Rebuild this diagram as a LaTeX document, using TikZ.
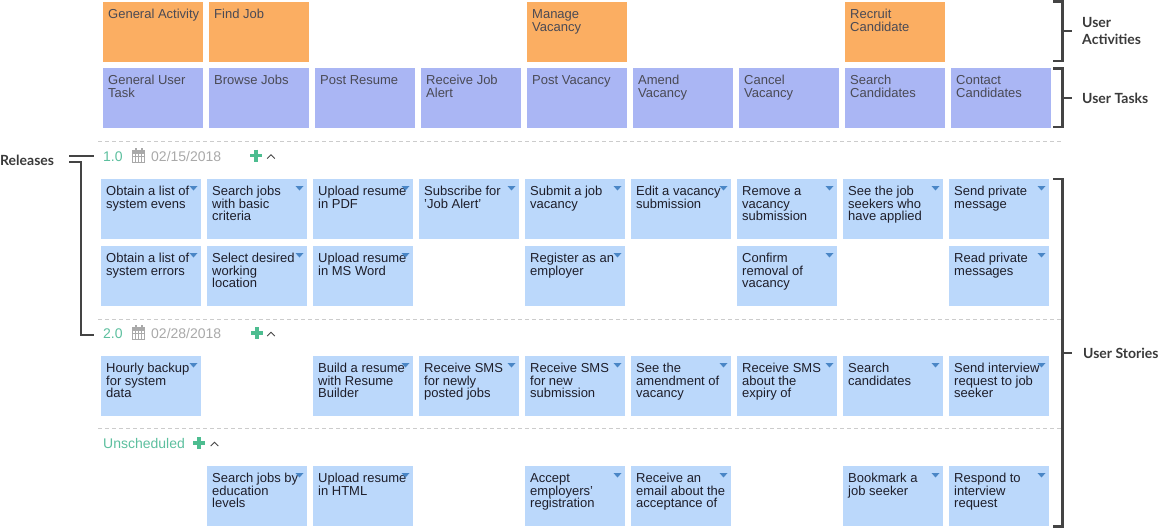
\documentclass[tikz,border=0pt]{standalone}
\usepackage{fontspec}
\setmainfont{Liberation Sans}
\newfontfamily\lato{Lato}
\definecolor{actcol}{HTML}{FBAE62}
\definecolor{taskcol}{HTML}{AAB6F4}
\definecolor{storycol}{HTML}{BBD8FB}
\definecolor{tricol}{HTML}{4A86C6}
\definecolor{relcol}{HTML}{5CBF9E}
\definecolor{datecol}{HTML}{A9A9A9}
\definecolor{pluscol}{HTML}{4DBD90}
\definecolor{brkcol}{HTML}{444444}
\definecolor{sepcol}{HTML}{CCCCCC}
\definecolor{cardtxtcol}{HTML}{4A4A55}
\definecolor{storytxtcol}{HTML}{1E1E2A}
\definecolor{lblcol}{HTML}{3A3A3A}
\tikzset{
  card/.style={anchor=north west, minimum width=100pt, minimum height=60pt, inner sep=0pt, outer sep=0pt, draw=none},
  actbox/.style={card, fill=actcol},
  taskbox/.style={card, fill=taskcol},
  storybox/.style={card, fill=storycol},
  ctext/.style={anchor=north west, inner sep=0pt, align=left, font=\fontsize{13}{12.8}\selectfont},
  reltxt/.style={anchor=base west, inner sep=0pt, text=relcol, font=\fontsize{14}{16}\selectfont},
  datetxt/.style={anchor=base west, inner sep=0pt, text=datecol, font=\fontsize{14}{16}\selectfont},
  lbl/.style={inner sep=0pt, align=left, text=lblcol, font=\lato\bfseries\fontsize{14}{17}\selectfont},
  brkline/.style={draw=brkcol, line width=2.5pt, line join=miter},
  sepline/.style={draw=sepcol, line width=0.8pt, dash pattern=on 4pt off 3pt},
  plusline/.style={draw=pluscol, line width=3.2pt},
  caretline/.style={draw=brkcol, line width=0.9pt},
}
\newcommand\cardtext[3]{\node[ctext,text=#1] (#2-t) at ([xshift=5pt,yshift=-5pt]#2.north west) {\rule{0pt}{11pt}#3};}
\newcommand\act[4]{\node[actbox] (#1) at (#2,#3) {}; \cardtext{cardtxtcol}{#1}{#4}}
\newcommand\task[4]{\node[taskbox] (#1) at (#2,#3) {}; \cardtext{cardtxtcol}{#1}{#4}}
\newcommand\story[4]{\node[storybox] (#1) at (#2,#3) {}; \cardtext{storytxtcol}{#1}{#4}
  \fill[tricol] ([xshift=-11.5pt,yshift=-7pt]#1.north east) -- ++(8pt,0pt) -- ++(-4pt,-4.5pt) -- cycle;}
\newcommand\calicon[2]{%
  \fill[datecol] (#1,#2+2) rectangle (#1+13,#2+14.5);
  \fill[datecol] (#1+2.5,#2) rectangle (#1+4.5,#2+3);
  \fill[datecol] (#1+8.5,#2) rectangle (#1+10.5,#2+3);
  \foreach \i in {0,...,3}{\foreach \j in {0,...,2}{
    \fill[white] (#1+1.2+\i*2.9,#2+5.6+\j*2.9) rectangle ++(2.1pt,-2.1pt);}}}
\newcommand\plusicon[2]{\draw[plusline] (#1-6,#2) -- (#1+6,#2); \draw[plusline] (#1,#2-6) -- (#1,#2+6);}
\newcommand\careticon[2]{\draw[caretline] (#1-3.8,#2+2) -- (#1,#2-1.8) -- (#1+3.8,#2+2);}
\begin{document}
\begin{tikzpicture}[x=1pt,y=-1pt]
\useasboundingbox (0,0) rectangle (1159,528);
% activities
\act{a1}{103}{2}{General Activity}
\act{a2}{209}{2}{Find Job}
\act{a5}{527}{2}{Manage\\Vacancy}
\act{a8}{845}{2}{Recruit\\Candidate}
% tasks
\task{t1}{103}{68}{General User\\Task}
\task{t2}{209}{68}{Browse Jobs}
\task{t3}{315}{68}{Post Resume}
\task{t4}{421}{68}{Receive Job\\Alert}
\task{t5}{527}{68}{Post Vacancy}
\task{t6}{633}{68}{Amend\\Vacancy}
\task{t7}{739}{68}{Cancel\\Vacancy}
\task{t8}{845}{68}{Search\\Candidates}
\task{t9}{951}{68}{Contact\\Candidates}
% separators
\draw[sepline] (98,141) -- (1061,141);
\draw[sepline] (98,319) -- (1061,319);
\draw[sepline] (98,428) -- (1061,428);
% release 1 header
\node[reltxt] (r1) at (103,161) {1.0};
\calicon{132}{148}
\node[datetxt] (d1) at (151,161) {02/15/2018};
\plusicon{256}{155.7}
\careticon{271}{156.5}
% release 1 stories
\story{s11}{101}{179}{Obtain a list of\\system evens}
\story{s12}{207}{179}{Search jobs\\with basic\\criteria}
\story{s13}{313}{179}{Upload resume\\in PDF}
\story{s14}{419}{179}{Subscribe for\\'Job Alert'}
\story{s15}{525}{179}{Submit a job\\vacancy}
\story{s16}{631}{179}{Edit a vacancy\\submission}
\story{s17}{737}{179}{Remove a\\vacancy\\submission}
\story{s18}{843}{179}{See the job\\seekers who\\have applied}
\story{s19}{949}{179}{Send private\\message}
\story{s21}{101}{246}{Obtain a list of\\system errors}
\story{s22}{207}{246}{Select desired\\working\\location}
\story{s23}{313}{246}{Upload resume\\in MS Word}
\story{s25}{525}{246}{Register as an\\employer}
\story{s27}{737}{246}{Confirm\\removal of\\vacancy}
\story{s29}{949}{246}{Read private\\messages}
% release 2 header
\node[reltxt] (r2) at (103,338) {2.0};
\calicon{132}{325}
\node[datetxt] (d2) at (151,338) {02/28/2018};
\plusicon{257}{333}
\careticon{271}{334}
% release 2 stories
\story{s31}{101}{356}{Hourly backup\\for system\\data}
\story{s33}{313}{356}{Build a resume\\with Resume\\Builder}
\story{s34}{419}{356}{Receive SMS\\for newly\\posted jobs}
\story{s35}{525}{356}{Receive SMS\\for new\\submission}
\story{s36}{631}{356}{See the\\amendment of\\vacancy}
\story{s37}{737}{356}{Receive SMS\\about the\\expiry of}
\story{s38}{843}{356}{Search\\candidates}
\story{s39}{949}{356}{Send interview\\request to job\\seeker}
% unscheduled header
\node[reltxt] (un) at (103,448) {Unscheduled};
\plusicon{199}{443}
\careticon{214.5}{444}
% unscheduled stories
\story{s42}{207}{466}{Search jobs by\\education\\levels}
\story{s43}{313}{466}{Upload resume\\in HTML}
\story{s45}{525}{466}{Accept\\employers'\\registration}
\story{s46}{631}{466}{Receive an\\email about the\\acceptance of}
\story{s48}{843}{466}{Bookmark a\\job seeker}
\story{s49}{949}{466}{Respond to\\interview\\request}
% right brackets
\draw[brkline] (1053,1.25) -- (1062.5,1.25) -- (1062.5,61) -- (1053,61);
\draw[brkline] (1062.5,31) -- (1072,31);
\draw[brkline] (1053,68.5) -- (1062.5,68.5) -- (1062.5,127) -- (1053,127);
\draw[brkline] (1062.5,98) -- (1072,98);
\draw[brkline] (1053,179) -- (1062.5,179) -- (1062.5,526.5) -- (1053,526.5);
\draw[brkline] (1062.5,353) -- (1072,353);
\node[lbl, anchor=north west] (lua) at (1082,16) {\rule{0pt}{11pt}User\\Activities};
\node[lbl, anchor=base west] (lut) at (1082,103) {User Tasks};
\node[lbl, anchor=base west] (lus) at (1083,358) {User Stories};
% left releases bracket
\node[lbl, anchor=base west] (lrel) at (0,165) {Releases};
\draw[brkline] (69,156) -- (94,156);
\draw[brkline] (69,162) -- (81,162) -- (81,335) -- (94,335);
\end{tikzpicture}
\end{document}
